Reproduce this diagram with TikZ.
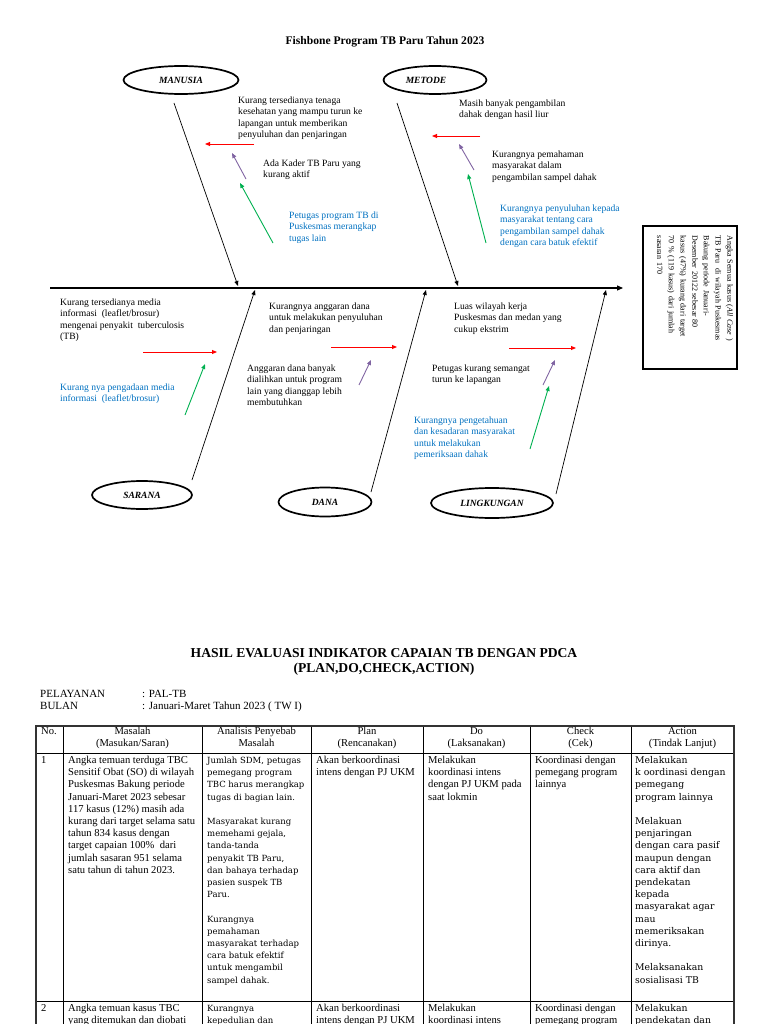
\documentclass[tikz,border=0pt]{standalone}
\usepackage{fontspec}
\setmainfont{Liberation Serif}
\newfontfamily\bookfont{DejaVu Serif}
\usetikzlibrary{arrows.meta,shapes.geometric}
\definecolor{myred}{HTML}{FF0000}
\definecolor{mypurple}{HTML}{8064A2}
\definecolor{mygreen}{HTML}{00B050}
\definecolor{myblue}{HTML}{0070C0}
\newcommand\txl[1]{\begin{tabular}[t]{@{}l@{}}#1\end{tabular}}
\newcommand\txc[1]{\begin{tabular}[t]{@{}c@{}}#1\end{tabular}}
\begin{document}
\begin{tikzpicture}[x=1pt,y=-1pt,
  cat/.style={ellipse,draw,line width=1.7pt,inner sep=0pt,font=\fontsize{9.5}{11}\selectfont\bfseries\itshape},
  fb/.style={anchor=base west,inner sep=0pt,font=\fontsize{9.6}{11.3}\selectfont},
  fbb/.style={fb,text=myblue},
  bone/.style={line width=0.7pt,-{Triangle[length=5pt,width=4pt]}},
  spine/.style={line width=1.2pt,-{Triangle[length=6pt,width=5pt]}},
  redar/.style={myred,line width=0.9pt,-{Triangle[length=5pt,width=4pt]}},
  purar/.style={mypurple,line width=0.9pt,-{Triangle[length=5pt,width=4pt]}},
  grnar/.style={mygreen,line width=0.9pt,-{Triangle[length=5pt,width=4pt]}},
  cell/.style={anchor=base west,inner sep=0pt,font=\fontsize{10.6}{12.2}\selectfont},
  bcell/.style={anchor=base west,inner sep=0pt,font=\bookfont\fontsize{8.5}{12.2}\selectfont},
  acell/.style={anchor=base west,inner sep=0pt,font=\bookfont\fontsize{9.3}{12.2}\selectfont},
  head/.style={anchor=base,inner sep=0pt,font=\fontsize{10.6}{12}\selectfont},
  info/.style={anchor=base west,inner sep=0pt,font=\fontsize{11}{12}\selectfont},
  tline/.style={line width=0.7pt},
  tborder/.style={line width=1.3pt,black!80}
]
\useasboundingbox (0,0) rectangle (768,1024);

% ---------- Fishbone ----------
\node[font=\fontsize{11.6}{13}\selectfont\bfseries] (title) at (385,42) {Fishbone Program TB Paru Tahun 2023};

\node[cat,minimum width=115pt,minimum height=28pt] (manusia) at (181,80) {MANUSIA};
\node[cat,minimum width=103pt,minimum height=28pt] (metode) at (435,80) {METODE\hspace*{18pt}};
\node[cat,minimum width=100pt,minimum height=28pt] (sarana) at (142,495) {SARANA};
\node[cat,minimum width=93pt,minimum height=29pt] (dana) at (325,502) {DANA};
\node[cat,minimum width=122pt,minimum height=30pt] (lingkungan) at (492,503) {LINGKUNGAN};

\coordinate (sp0) at (50,288);
\coordinate (sp1) at (623,288);
\draw[spine] (sp0) -- (sp1);

\coordinate (mA) at (174,103); \coordinate (mB) at (238,286);
\coordinate (tA) at (397,103); \coordinate (tB) at (458,286);
\coordinate (sA) at (192,480); \coordinate (sB) at (255,290);
\coordinate (dA) at (371,492); \coordinate (dB) at (426,290);
\coordinate (lA) at (556,494); \coordinate (lB) at (606,290);
\draw[bone] (mA) -- (mB);
\draw[bone] (tA) -- (tB);
\draw[bone] (sA) -- (sB);
\draw[bone] (dA) -- (dB);
\draw[bone] (lA) -- (lB);

% cause texts
\node[fb] (t1) at (238,103.5) {\txl{Kurang tersedianya tenaga\\kesehatan yang mampu turun ke\\lapangan untuk memberikan\\penyuluhan dan penjaringan}};
\node[fb] (t2) at (263,166.5) {\txl{Ada Kader TB Paru yang\\kurang aktif}};
\node[fbb] (t3) at (289,218.5) {\txl{Petugas program TB di\\Puskesmas merangkap\\tugas lain}};
\node[fb] (t4) at (459,106.5) {\txl{Masih banyak pengambilan\\dahak dengan hasil liur}};
\node[fb] (t5) at (492,157.5) {\txl{Kurangnya pemahaman\\masyarakat dalam\\pengambilan sampel dahak}};
\node[fbb] (t6) at (500,211.5) {\txl{Kurangnya penyuluhan kepada\\masyarakat tentang cara\\pengambilan sampel dahak\\dengan cara batuk efektif}};
\node[fb] (b1) at (60,305.5) {\txl{Kurang tersedianya media\\informasi~~(leaflet/brosur)\\mengenai penyakit~~tuberculosis\\(TB)}};
\node[fbb] (b2) at (60,390.5) {\txl{Kurang nya pengadaan media\\informasi~~(leaflet/brosur)}};
\node[fb] (b3) at (269,309.5) {\txl{Kurangnya anggaran dana\\untuk melakukan penyuluhan\\dan penjaringan}};
\node[fb] (b4) at (247,371.5) {\txl{Anggaran dana banyak\\dialihkan untuk program\\lain yang dianggap lebih\\membutuhkan}};
\node[fb] (b5) at (454,309.5) {\txl{Luas wilayah kerja\\Puskesmas dan medan yang\\cukup ekstrim}};
\node[fb] (b6) at (432,371.5) {\txl{Petugas kurang semangat\\turun ke lapangan}};
\node[fbb] (b7) at (414,423.5) {\txl{Kurangnya pengetahuan\\dan kesadaran masyarakat\\untuk melakukan\\pemeriksaan dahak}};

% small arrows
\coordinate (r1a) at (254,144); \coordinate (r1b) at (205,144);
\coordinate (p1a) at (246,179); \coordinate (p1b) at (232,153);
\coordinate (g1a) at (273,243); \coordinate (g1b) at (240,183);
\coordinate (r2a) at (480,136); \coordinate (r2b) at (432,136);
\coordinate (p2a) at (474,170); \coordinate (p2b) at (459,144);
\coordinate (g2a) at (486,243); \coordinate (g2b) at (468,174);
\coordinate (r3a) at (143,352); \coordinate (r3b) at (217,352);
\coordinate (g3a) at (185,415); \coordinate (g3b) at (205,364);
\coordinate (r4a) at (331,347); \coordinate (r4b) at (397,347);
\coordinate (p4a) at (359,385); \coordinate (p4b) at (371,360);
\coordinate (r5a) at (509,348); \coordinate (r5b) at (576,348);
\coordinate (p5a) at (543,385); \coordinate (p5b) at (555,360);
\coordinate (g5a) at (530,449); \coordinate (g5b) at (549,386);
\draw[redar] (r1a) -- (r1b);
\draw[purar] (p1a) -- (p1b);
\draw[grnar] (g1a) -- (g1b);
\draw[redar] (r2a) -- (r2b);
\draw[purar] (p2a) -- (p2b);
\draw[grnar] (g2a) -- (g2b);
\draw[redar] (r3a) -- (r3b);
\draw[grnar] (g3a) -- (g3b);
\draw[redar] (r4a) -- (r4b);
\draw[purar] (p4a) -- (p4b);
\draw[redar] (r5a) -- (r5b);
\draw[purar] (p5a) -- (p5b);
\draw[grnar] (g5a) -- (g5b);

% effect box
\node[draw,line width=2pt,minimum width=94pt,minimum height=143pt,inner sep=0pt] (effectbox) at (690,297.5) {};
\node[rotate=-90,text width=129pt,align=left,inner sep=0pt,
  font=\fontsize{8}{11.7}\selectfont] (effect) at (695,300.5)
  {Angka Semua kasus (\textit{All Case} )\\TB Paru~~di wilayah Puskesmas\\Bakung periode Januari-\\Desember 20122 sebesar 80\\kasus (47\%) kurang dari target\\70 \% (119 kasus) dari jumlah\\sasaran 170};

% ---------- Table section ----------
\node[anchor=base,inner sep=0pt,font=\fontsize{13.6}{15}\selectfont\bfseries] (ttitle) at (384,657.5)
  {\txc{HASIL EVALUASI INDIKATOR CAPAIAN TB DENGAN PDCA\\(PLAN,DO,CHECK,ACTION)}};
\node[info] (pel) at (40,697) {PELAYANAN};
\node[info] (pelv) at (142,697) {: PAL-TB};
\node[info] (bul) at (40,709) {BULAN};
\node[info] (bulv) at (142,709) {: Januari-Maret Tahun 2023 ( TW I)};

% table grid
\foreach \x in {63,202,311,423,530,631} { \draw[tline] (\x,726) -- (\x,1024); }
\draw[tline] (36,753) -- (734,753);
\draw[tline] (36,1001) -- (734,1001);
\draw[tborder] (36,1024) -- (36,726) -- (734,726) -- (734,1024);

% header
\node[cell] (hno) at (41,734.5) {No.};
\node[head] (h1) at (132.5,734.5) {\txc{Masalah\\(Masukan/Saran)}};
\node[head] (h2) at (256.5,734.5) {\txc{Analisis Penyebab\\Masalah}};
\node[head] (h3) at (367,734.5) {\txc{Plan\\(Rencanakan)}};
\node[head] (h4) at (476.5,734.5) {\txc{Do\\(Laksanakan)}};
\node[head] (h5) at (580.5,734.5) {\txc{Check\\(Cek)}};
\node[head] (h6) at (682.5,734.5) {\txc{Action\\(Tindak Lanjut)}};

% row 1
\node[cell] (n1) at (41,763.5) {1};
\node[cell] (m1) at (68,763.5) {\txl{Angka temuan terduga TBC\\Sensitif Obat (SO) di wilayah\\Puskesmas Bakung periode\\Januari-Maret 2023 sebesar\\117 kasus (12\%) masih ada\\kurang dari target selama satu\\tahun 834 kasus dengan\\target capaian 100\%~~dari\\jumlah sasaran 951 selama\\satu tahun di tahun 2023.}};
\node[bcell] (a1) at (207,763.5) {\txl{Jumlah SDM, petugas\\pemegang program\\TBC harus merangkap\\tugas di bagian lain.\\[12.2pt]Masyarakat kurang\\memehami gejala,\\tanda-tanda\\penyakit TB Paru,\\dan bahaya terhadap\\pasien suspek TB\\Paru.\\[12.2pt]Kurangnya\\pemahaman\\masyarakat terhadap\\cara batuk efektif\\untuk mengambil\\sampel dahak.}};
\node[cell] (p1) at (316,763.5) {\txl{Akan berkoordinasi\\intens dengan PJ UKM}};
\node[cell] (d1) at (428,763.5) {\txl{Melakukan\\koordinasi intens\\dengan PJ UKM pada\\saat lokmin}};
\node[cell] (c1) at (535,763.5) {\txl{Koordinasi dengan\\pemegang program\\lainnya}};
\node[acell] (x1) at (635,763.5) {\txl{Melakukan\\k oordinasi dengan\\pemegang\\program lainnya\\[12.2pt]Melakuan\\penjaringan\\dengan cara pasif\\maupun dengan\\cara aktif dan\\pendekatan\\kepada\\masyarakat agar\\mau\\memeriksakan\\dirinya.\\[12.2pt]Melaksanakan\\sosialisasi TB}};

% row 2
\node[cell] (n2) at (41,1011.5) {2};
\node[cell] (m2) at (68,1011.5) {\txl{Angka temuan kasus TBC\\yang ditemukan dan diobati}};
\node[bcell] (a2) at (207,1011.5) {\txl{Kurangnya\\kepedulian dan}};
\node[cell] (p2) at (316,1011.5) {\txl{Akan berkoordinasi\\intens dengan PJ UKM}};
\node[cell] (d2) at (428,1011.5) {\txl{Melakukan\\koordinasi intens}};
\node[cell] (c2) at (535,1011.5) {\txl{Koordinasi dengan\\pemegang program}};
\node[acell] (x2) at (635,1011.5) {\txl{Melakukan\\pendekatan dan}};
\end{tikzpicture}
\end{document}
